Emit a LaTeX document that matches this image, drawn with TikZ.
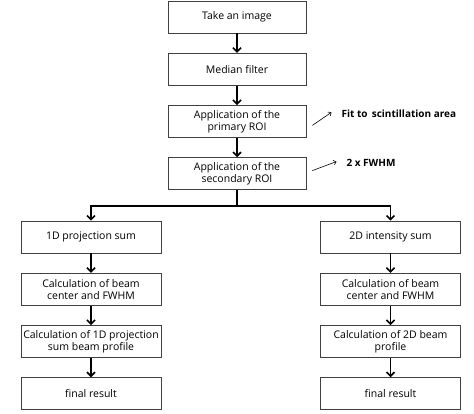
\documentclass[tikz,border=0pt]{standalone}
\usepackage{fontspec}
\setmainfont{Open Sans}
\usetikzlibrary{arrows.meta, positioning}

\begin{document}
\begin{tikzpicture}[
    x=1pt, y=-1pt,
    node distance = 19.5pt,
    box/.style = {draw=black!75, line width=0.7pt, minimum width=140pt,
                minimum height=32pt, inner xsep=0pt, inner ysep=1pt,
                align=center, font=\fontsize{10.5}{12}\selectfont},
    topbox/.style = {box, minimum width=138pt},
    flow/.style = {line width=1.6pt, -{Straight Barb[length=4pt,width=8pt]}},
    note/.style = {anchor=west, inner sep=0pt, font=\fontsize{10}{12}\selectfont\bfseries},
    pointer/.style = {line width=0.6pt, -{To[length=3pt,width=5pt]}}
                    ]
\useasboundingbox (0,0) rectangle (474,414);

% main column
\node (img)  [topbox] at (237,17) {Take an image};
\node (med)  [topbox, below=of img]  {Median filter};
\node (roi1) [topbox, below=of med]  {Application of the\\ primary ROI};
\node (roi2) [topbox, below=of roi1] {Application of the\\ secondary ROI};

\draw[flow] (img) -- (med);
\draw[flow] (med) -- (roi1);
\draw[flow] (roi1) -- (roi2);

% notes
\node (fit)  [note] at ([xshift=35pt,yshift=8pt]roi1.east) {Fit to \,scintillation area};
\node (fwhm) [note] at ([xshift=40pt,yshift=11pt]roi2.east) {2 x FWHM};
\coordinate (p1) at ([xshift=6pt,yshift=-4pt]roi1.east);
\coordinate (q1) at ([xshift=-10pt,yshift=1pt]fit.west);
\coordinate (p2) at ([xshift=6pt,yshift=3pt]roi2.east);
\coordinate (q2) at ([xshift=-10pt,yshift=1pt]fwhm.west);
\draw[pointer] (p1) -- (q1);
\draw[pointer] (p2) -- (q2);

% left branch
\node (sum1)  [box] at (91,237) {1D projection sum};
\node (calc1) [box, below=of sum1]  {Calculation of beam\\ center and FWHM};
\node (prof1) [box, below=of calc1] {Calculation of 1D projection\\ sum beam profile};
\node (res1)  [box, below=of prof1] {final result};

% right branch
\node (sum2)  [box] at (390.5,237) {2D intensity sum};
\node (calc2) [box, below=of sum2]  {Calculation of beam\\ center and FWHM};
\node (prof2) [box, below=of calc2] {Calculation of 2D beam\\ profile};
\node (res2)  [box, below=of prof2] {final result};

\coordinate (split) at ([yshift=-16pt]roi2.south);
\draw[line width=1.6pt] (roi2.south) -- (split);
\draw[flow] (split) -| (sum1.north);
\draw[flow] (split) -| (sum2.north);

\draw[flow] (sum1) -- (calc1);
\draw[flow] (calc1) -- (prof1);
\draw[flow] (prof1) -- (res1);
\draw[flow] (sum2) -- (calc2);
\draw[flow] (calc2) -- (prof2);
\draw[flow] (prof2) -- (res2);

\end{tikzpicture}
\end{document}
